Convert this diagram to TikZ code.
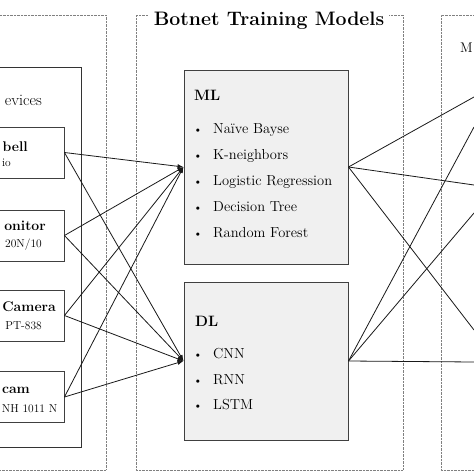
\documentclass[tikz,border=0pt]{standalone}
\usetikzlibrary{arrows.meta}
\begin{document}
\begin{tikzpicture}[x=1pt,y=-1pt,
  dotbox/.style={draw=black!50, line width=0.9pt, dash pattern=on 0.7pt off 0.7pt},
  solidbox/.style={draw=black!80, line width=1pt},
  devbox/.style={draw=black!75, line width=0.9pt, fill=white, minimum width=140pt, minimum height=51pt, inner sep=0pt},
  algbox/.style={draw=black!75, line width=1pt, fill=black!6, minimum width=164pt, inner sep=0pt},
  link/.style={draw=black!90, line width=0.8pt},
  arr/.style={link, -{Latex[length=6pt,width=4.5pt]}},
  devname/.style={font=\fontsize{14}{16}\selectfont\bfseries, anchor=base east, inner sep=0pt},
  devmodel/.style={font=\fontsize{11.5}{14}\selectfont, anchor=base east, inner sep=0pt},
  item/.style={font=\fontsize{14.5}{16}\selectfont, anchor=base west, inner sep=0pt},
  bul/.style={font=\fontsize{12}{14}\selectfont, anchor=base, inner sep=0pt},
  head/.style={font=\fontsize{15}{17}\selectfont\bfseries, anchor=base west, inner sep=0pt}
]
\useasboundingbox (0,0) rectangle (474,474);
\clip (0,0) rectangle (474,474);
\fill[white] (0,0) rectangle (474,474);

% dotted group frames
\draw[dotbox] (-10,15) -| (106,470) -- (-10,470);
\draw[dotbox] (136,15) rectangle (403,470);
\draw[dotbox] (490,15) -| (441,470) -- (490,470);
\node[fill=white, inner ysep=2pt, inner xsep=0pt, minimum width=240pt, font=\fontsize{19.5}{23}\selectfont\bfseries, anchor=base] (title) at (269,25) {Botnet Training Models};
\node[font=\fontsize{14}{16}\selectfont, anchor=base west, inner sep=0pt] (mtext) at (460,52) {M};

% IoT devices frame
\draw[solidbox] (-10,67) -| (81,447) -- (-10,447);
\node[font=\fontsize{16}{19}\selectfont, anchor=base east, inner sep=0pt] (devs) at (42,105) {evices};

% device boxes
\node[devbox] (d1) at (-6,152.5) {};
\node[devbox] (d2) at (-6,235.5) {};
\node[devbox] (d3) at (-6,315.5) {};
\node[devbox] (d4) at (-6,397) {};
\node[devname] (d1a) at (28,151) {bell};
\node[devmodel] (d1b) at (11,166) {io};
\node[devname] (d2a) at (46,230) {onitor};
\node[devmodel] (d2b) at (42,247) {20N/10};
\node[devname] (d3a) at (56,311) {Camera};
\node[devmodel] (d3b) at (42,329) {PT-838};
\node[devname] (d4a) at (30,393) {cam};
\node[devmodel] (d4b) at (57.5,412) {NH 1011 N};

% algorithm boxes
\node[algbox, minimum height=194pt] (ml) at (266,167) {};
\node[algbox, minimum height=158pt] (dl) at (266,361) {};

\node[head] (mlh) at (194,100) {ML};
\foreach \t/\y [count=\i] in {Na\"{\i}ve Bayse/133, K-neighbors/159, Logistic Regression/185, Decision Tree/211, Random Forest/237}{
  \node[bul] (mlb\i) at (198,\y) {\textbullet};
  \node[item] (mli\i) at (213,\y) {\t};
}
\node[head] (dlh) at (195,326) {DL};
\foreach \t/\y [count=\i] in {CNN/358, RNN/384, LSTM/409}{
  \node[bul] (dlb\i) at (198,\y) {\textbullet};
  \node[item] (dli\i) at (213,\y) {\t};
}

% connectors devices -> models
\foreach \d in {d1,d2,d3,d4}{
  \draw[arr] (\d.east) -- (ml.west);
  \draw[arr] (\d.east) -- (dl.west);
}

% connectors models -> right (cut at picture edge)
\coordinate (o1) at (474,97);
\coordinate (o2) at (474,185);
\coordinate (o3) at (474,330);
\coordinate (o4) at (474,127);
\coordinate (o5) at (474,213);
\coordinate (o6) at (474,362);
\draw[link] (ml.east) -- (o1);
\draw[link] (ml.east) -- (o2);
\draw[link] (ml.east) -- (o3);
\draw[link] (dl.east) -- (o4);
\draw[link] (dl.east) -- (o5);
\draw[link] (dl.east) -- (o6);
\end{tikzpicture}
\end{document}
